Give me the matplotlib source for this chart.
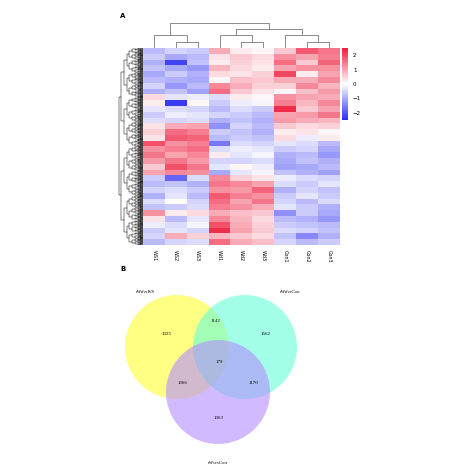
import numpy as np
import matplotlib
matplotlib.use("Agg")
import matplotlib.pyplot as plt
from matplotlib.colors import LinearSegmentedColormap
from matplotlib.patches import Circle

samples = ["WS1", "WS2", "WS3", "Wd1", "Wd2", "Wd3", "Con1", "Con2", "Con3"]
rows = [
 [-0.8,-0.5,-0.6, 0.9, 0.2, 0.1, 0.6, 1.8, 1.5],
 [-0.6,-1.0,-0.8, 0.3, 0.6, 0.4, 1.2, 1.0, 1.4],
 [-0.9,-2.2,-0.7, 0.2, 0.5, 0.3, 1.6, 0.6, 1.7],
 [-0.7,-1.0,-1.2, 0.8, 0.4, 0.2, 1.0, 1.2, 1.2],
 [-1.0,-0.6,-0.9, 0.4, 0.3, 0.5, 2.0, 0.2, 1.0],
 [-0.8,-0.9,-1.0, 0.1, 0.7, 0.6, 0.9, 0.9, 1.3],
 [-0.5,-1.2,-0.8, 1.3, 0.9, 0.5, 0.5, 1.3, 0.8],
 [-0.9,-0.7,-1.1, 1.6, 0.6, 0.3, 0.1, 0.7, 1.1],
 [ 0.4,-0.3,-0.2,-0.4, 0.2, 0.1, 1.2, 1.0, 0.9],
 [ 0.2,-2.3, 0.1,-0.6,-0.2,-0.1, 1.4, 0.8, 1.3],
 [-0.3,-0.4,-0.5,-0.8,-0.4,-0.6, 2.3, 0.6, 1.0],
 [-0.6,-0.2,-0.3,-0.5,-0.6,-0.8, 1.0, 1.1, 1.5],
 [-0.4,-0.5,-0.4,-0.9,-0.7,-0.9, 1.1, 0.9, 0.8],
 [ 0.3, 0.9, 1.0,-1.3,-0.5,-0.8, 0.6, 0.4, 0.5],
 [ 0.5, 1.6, 1.4,-0.6,-0.7,-0.9, 0.2, 0.3, 0.1],
 [ 0.3, 1.8, 1.7,-0.8,-0.6,-0.7, 0.4,-0.2, 0.2],
 [ 1.9, 1.2, 1.4,-1.6,-0.4,-0.5,-0.3,-0.4,-0.8],
 [ 1.2, 1.4, 1.6,-0.4,-0.2,-0.3,-0.6,-0.5,-1.0],
 [ 1.5, 1.0, 1.3, 0.2,-0.3,-0.1,-0.9,-0.8,-1.2],
 [ 1.1, 1.5, 1.1,-0.5,-0.5,-0.4,-1.0,-0.7,-0.9],
 [ 0.6, 1.9, 1.5,-0.3, 0.1,-0.2,-1.1,-1.0,-0.8],
 [ 1.0, 1.3, 1.2,-1.0,-0.3,-0.1,-0.7,-0.9,-1.1],
 [-0.6,-1.8,-0.4, 1.3, 0.5, 0.3,-0.2,-0.4,-0.5],
 [-0.8,-0.7,-0.9, 1.5, 1.3, 1.0,-0.4,-0.6,-0.3],
 [-0.5,-0.4,-0.6, 1.2, 1.1, 1.7,-0.9,-0.5,-0.7],
 [-0.9,-0.3,-0.8, 1.8, 1.4, 1.2,-0.6,-0.3,-0.6],
 [-0.4, 0.0,-0.5, 1.6, 1.0, 1.5,-0.5,-0.8,-0.4],
 [-0.7,-0.6,-0.4, 1.4, 1.2, 0.9,-0.3,-0.6,-0.9],
 [ 1.2, 0.2, 0.4, 0.9, 0.7, 0.6,-1.3,-0.6,-1.0],
 [ 0.3,-0.8,-0.3, 1.3, 0.8, 0.4,-0.8,-0.9,-1.2],
 [-0.2,-0.4,-0.1, 1.9, 0.9, 0.5,-0.6,-0.7,-0.8],
 [-0.6,-0.3,-0.5, 2.3, 1.0, 0.6,-0.4,-0.5,-0.7],
 [-0.5, 0.9, 0.5, 0.8, 0.6, 0.4,-0.7,-1.4,-0.9],
 [-0.8,-0.5,-0.4, 1.6, 0.9, 0.7,-0.5,-0.8,-0.6],
]
matrix = np.array(rows)
leaves_per_row = 12

def draw_row_dendro(ax, lo, hi, lw):
    if hi - lo == 1:
        return lo + 0.5, 0.0
    mid = (lo + hi) // 2
    y1, h1 = draw_row_dendro(ax, lo, mid, lw)
    y2, h2 = draw_row_dendro(ax, mid, hi, lw)
    h = max(h1, h2) + 1
    ax.plot([h1, h, h, h2], [y1, y1, y2, y2], color="black", lw=lw)
    return (y1 + y2) / 2, h

fig = plt.figure(figsize=(4.74, 4.75), dpi=100)
W, H = 474, 475
def ax_px(x0, y0, x1, y1):
    return fig.add_axes([x0 / W, 1 - y1 / H, (x1 - x0) / W, (y1 - y0) / H])

cmap = LinearSegmentedColormap.from_list("bwr2", ["#2b2bf5", "#ffffff", "#ee1c3c"])
axh = ax_px(143, 48, 340, 245)
im = axh.imshow(matrix, aspect="auto", cmap=cmap, vmin=-2.5, vmax=2.5, interpolation="nearest")
axh.set_xticks(range(len(samples)))
axh.set_xticklabels(samples, rotation=270, fontsize=3.5)
axh.set_yticks([])
axh.tick_params(length=0)
for s in axh.spines.values():
    s.set_visible(False)

axl = ax_px(118, 48, 143, 245)
n = matrix.shape[0] * leaves_per_row
_, hmax = draw_row_dendro(axl, 0, n, 0.35)
axl.set_ylim(n, 0)
axl.set_xlim(hmax + 0.2, 0)
axl.axis("off")

axt = ax_px(143, 22, 340, 48)
def cline(xs, ys):
    axt.plot(xs, ys, color="#777777", lw=0.6)
cline([1, 1, 2, 2], [0, 1, 1, 0]); cline([0, 0, 1.5, 1.5], [0, 2, 2, 1])
cline([4, 4, 5, 5], [0, 1, 1, 0]); cline([3, 3, 4.5, 4.5], [0, 2, 2, 1])
cline([7, 7, 8, 8], [0, 1, 1, 0]); cline([6, 6, 7.5, 7.5], [0, 2, 2, 1])
cline([3.75, 3.75, 6.75, 6.75], [2, 3, 3, 2])
cline([0.75, 0.75, 5.25, 5.25], [2, 4, 4, 3])
axt.set_xlim(-0.5, 8.5); axt.set_ylim(0, 4.1); axt.axis("off")

axc = ax_px(342, 48, 348, 120)
cb = fig.colorbar(im, cax=axc, ticks=[-2, -1, 0, 1, 2])
cb.ax.tick_params(labelsize=4, length=0)
cb.outline.set_visible(False)

fig.text(120 / W, 1 - 18 / H, "A", fontsize=5, weight="bold")
fig.text(120 / W, 1 - 271 / H, "B", fontsize=5, weight="bold")

venn_names = ["rWdvsWS", "rWdvsCon", "rWsvsCon"]
venn_counts = [1325, 1562, 1363, 1142, 1066, 1170, 179]  # A, B, C, AB, AC, BC, ABC

axv = ax_px(100, 280, 370, 470)
axv.set_xlim(100, 370); axv.set_ylim(470, 280)
axv.set_aspect("equal"); axv.axis("off")
circles = [((177, 347), "#ffff33"), ((245, 347), "#66ffd9"), ((218, 392), "#b38cff")]
for (c, col) in circles:
    axv.add_patch(Circle(c, 52, color=col, alpha=0.6, lw=0))
pos = [(167, 334), (266, 334), (219, 418), (215, 321), (182, 383), (253, 383), (219, 362)]
for (x, y), v in zip(pos, venn_counts):
    axv.text(x, y, str(v), fontsize=3.5, ha="center", va="center", family="Liberation Serif")
axv.text(145, 293, venn_names[0], fontsize=3.5, ha="center", style="italic", family="Liberation Serif")
axv.text(290, 293, venn_names[1], fontsize=3.5, ha="center", style="italic", family="Liberation Serif")
axv.text(218, 464, venn_names[2], fontsize=3.5, ha="center", style="italic", family="Liberation Serif")

fig.savefig("out.png", dpi=100)
